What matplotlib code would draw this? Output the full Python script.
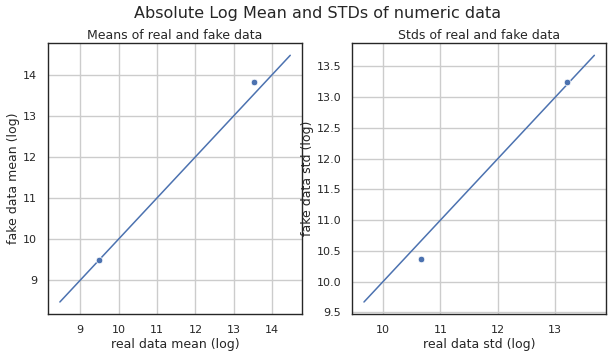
import numpy as np
import matplotlib
matplotlib.use('Agg')
import matplotlib.pyplot as plt
import seaborn as sns

# log means / stds of real vs fake columns
real_mean = [9.49, 13.53]
fake_mean = [9.49, 13.81]
real_std = [10.67, 13.20]
fake_std = [10.37, 13.24]
# identity line ends
mean_line = [8.47, 14.47]
std_line = [9.67, 13.68]

sns.set_theme(style='whitegrid')
plt.rcParams['font.family'] = ['DejaVu Sans']
plt.rcParams['axes.edgecolor'] = '.15'
plt.rcParams['axes.linewidth'] = 1.0

fig, ax = plt.subplots(1, 2, figsize=(6.12, 3.58), dpi=100)
fig.subplots_adjust(left=0.079, right=0.990, bottom=0.122, top=0.880, wspace=0.2)
fig.suptitle('Absolute Log Mean and STDs of numeric data', fontsize=11.5, x=0.519, y=0.982)

ax[0].scatter(real_mean, fake_mean, s=22, color='#4c72b0', edgecolors='white', linewidths=0.5, zorder=3)
ax[0].plot(mean_line, mean_line, color='#4c72b0', lw=1.1)
ax[0].set_title('Means of real and fake data', fontsize=9, pad=3)
ax[0].set_xlabel('real data mean (log)', fontsize=9, labelpad=2)
ax[0].set_ylabel('fake data mean (log)', fontsize=9, labelpad=2)

ax[1].scatter(real_std, fake_std, s=22, color='#4c72b0', edgecolors='white', linewidths=0.5, zorder=3)
ax[1].plot(std_line, std_line, color='#4c72b0', lw=1.1)
ax[1].set_title('Stds of real and fake data', fontsize=9, pad=3)
ax[1].set_xlabel('real data std (log)', fontsize=9, labelpad=2)
ax[1].set_ylabel('fake data std (log)', fontsize=9, labelpad=2)
ax[1].set_yticks(np.arange(9.5, 13.6, 0.5))
ax[1].set_xticks([10, 11, 12, 13])

for a in ax:
    a.tick_params(labelsize=8, pad=2)

plt.savefig('out.png', dpi=100)
